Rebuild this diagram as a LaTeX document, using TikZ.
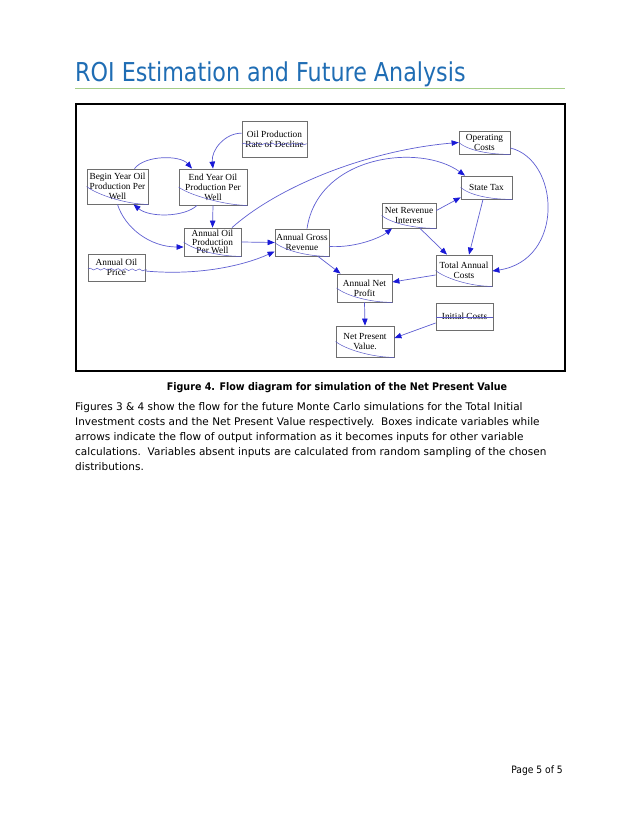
\documentclass[tikz,border=0pt]{standalone}
\usepackage{fontspec}
\setmainfont{Liberation Serif}
\newfontfamily\tah[FakeStretch=0.9]{DejaVu Sans}
\newfontfamily\tahcap[FakeStretch=0.91]{DejaVu Sans}
\newfontfamily\tahbody{DejaVu Sans}
\newfontfamily\tahtitle[FakeStretch=0.855]{DejaVu Sans}
\usetikzlibrary{arrows.meta,decorations.pathmorphing}
\definecolor{titleblue}{RGB}{31,109,180}
\definecolor{rulegreen}{RGB}{165,205,135}
\definecolor{linkc}{RGB}{95,95,210}
\definecolor{headc}{RGB}{25,25,215}
\definecolor{wigc}{RGB}{90,90,200}
\definecolor{boxc}{RGB}{110,110,110}
\begin{document}
\begin{tikzpicture}[x=1pt,y=-1pt,
  var/.style={draw=boxc, line width=0.8pt, fill=white, inner sep=1pt, align=center,
    font=\fontsize{9.3}{10}\selectfont},
  arr/.style={draw=linkc, line width=0.7pt, -{Triangle[length=7pt,width=5.5pt,color=headc]}},
  wig/.style={draw=wigc, line width=0.5pt},
  wavy/.style={wig, decorate, decoration={snake, amplitude=0.9pt, segment length=7pt}},
  bodytext/.style={anchor=base west, inner sep=0, font=\tahbody\fontsize{10.5}{12}\selectfont}
]
\useasboundingbox[fill=white] (0,0) rectangle (638,826);

% title
\node[anchor=base west, inner sep=0, font=\tahtitle\fontsize{26}{30}\selectfont, text=titleblue] (title) at (75,82) {ROI Estimation and Future Analysis};
\draw[rulegreen, line width=1.3pt] (75,88.5) -- (565,88.5);

% frame
\draw[line width=2pt] (76,104) rectangle (565,371);

% nodes
\node[var, minimum width=65pt, minimum height=36pt] (oprd) at (274.5,139) {Oil Production\\Rate of Decline};
\node[var, minimum width=61pt, minimum height=35pt] (begin) at (117.5,186.5) {Begin Year Oil\\Production Per\\Well};
\node[var, minimum width=68pt, minimum height=36pt] (endy) at (213,187) {End Year Oil\\Production Per\\Well};
\node[var, minimum width=57pt, minimum height=28pt, font=\fontsize{9.3}{8.4}\selectfont] (aop) at (212.5,242) {Annual Oil\\Production\\Per Well};
\node[var, minimum width=54pt, minimum height=27pt] (agr) at (302,242.5) {Annual Gross\\Revenue};
\node[var, minimum width=57pt, minimum height=27pt] (price) at (116.5,267.5) {Annual Oil\\Price};
\node[var, minimum width=51pt, minimum height=23pt] (opc) at (484.5,142.5) {Operating\\Costs};
\node[var, minimum width=51pt, minimum height=23pt] (stax) at (486.5,187.5) {State Tax};
\node[var, minimum width=54pt, minimum height=25pt] (nri) at (409,215.5) {Net Revenue\\Interest};
\node[var, minimum width=56pt, minimum height=31pt] (tac) at (464,270.5) {Total Annual\\Costs};
\node[var, minimum width=55pt, minimum height=28pt] (anp) at (364.5,288) {Annual Net\\Profit};
\node[var, minimum width=57pt, minimum height=27pt] (init) at (464.5,316.5) {Initial Costs};
\node[var, minimum width=58pt, minimum height=31pt] (npv) at (365,341.5) {Net Present\\Value.};

% internal curves
\draw[wavy] (242,144) -- (307,144);
\draw[wavy] (88,269) -- (147,270);
\draw[wig] (436,317) -- (493,317);
\foreach \n in {begin,endy,aop,agr,opc,stax,nri,tac,anp,npv}
  \draw[wig] (\n.west) .. controls +(10,8) and +(-22,0) .. (\n.south east);

% connectors
\draw[arr] (oprd.170) .. controls (225,133) and (211,150) .. (endy.north);
\draw[arr] ([xshift=17pt]begin.north) .. controls (145,155) and (180,155) .. ([xshift=-21pt]endy.north);
\draw[arr] ([xshift=-16pt]endy.south) .. controls (185,217) and (150,218) .. ([xshift=16pt]begin.south);
\draw[arr] (endy.south) -- (aop.north);
\draw[arr] (begin.south) .. controls (125,228) and (150,247) .. ([yshift=-5pt]aop.west);
\draw[arr] (aop.east) -- (agr.west);
\draw[arr] ([yshift=-3.5pt]price.east) .. controls (200,276) and (245,265) .. ([yshift=-9pt]agr.west);
\draw[arr] ([xshift=19.5pt]aop.north) .. controls (280,185) and (370,150) .. (opc.west);
\draw[arr] ([xshift=5pt]agr.north) .. controls (318,155) and (420,143) .. ([xshift=-21.5pt]stax.north);
\draw[arr] ([yshift=-4pt]agr.east) .. controls (355,248) and (380,238) .. ([xshift=-17pt]nri.south);
\draw[arr] ([yshift=5pt]nri.east) -- ([yshift=2pt]stax.south west);
\draw[arr] ([xshift=-3.5pt]stax.south) -- ([xshift=5pt]tac.north);
\draw[arr] ([xshift=11pt]nri.south) -- ([xshift=-17pt]tac.north);
\draw[arr] ([yshift=-5.5pt]opc.east) .. controls (560,160) and (565,260) .. ([yshift=-0.5pt]tac.east);
\draw[arr] ([xshift=16pt]agr.south) -- ([xshift=-24pt]anp.north);
\draw[arr] ([yshift=-4.5pt]tac.west) -- ([yshift=6pt]anp.east);
\draw[arr] (anp.south) -- (npv.north);
\draw[arr] ([yshift=-6.5pt]init.west) -- ([yshift=3.5pt]npv.east);

% caption and body
\node[anchor=base, inner sep=0, font=\tahcap\bfseries\fontsize{10.5}{12}\selectfont] (cap) at (337,390) {Figure 4. Flow diagram for simulation of the Net Present Value};
\node[bodytext] (l1) at (75,410) {Figures 3 \& 4 show the flow for the future Monte Carlo simulations for the Total Initial};
\node[bodytext] (l2) at (75,425) {Investment costs and the Net Present Value respectively.\ \ Boxes indicate variables while};
\node[bodytext] (l3) at (75,440) {arrows indicate the flow of output information as it becomes inputs for other variable};
\node[bodytext] (l4) at (75,455.5) {calculations.\ \ Variables absent inputs are calculated from random sampling of the chosen};
\node[bodytext] (l5) at (75,470.5) {distributions.};

\node[anchor=base east, inner sep=0, font=\tah\fontsize{10.2}{12}\selectfont] (page) at (563,773) {Page 5 of 5};
\end{tikzpicture}
\end{document}
